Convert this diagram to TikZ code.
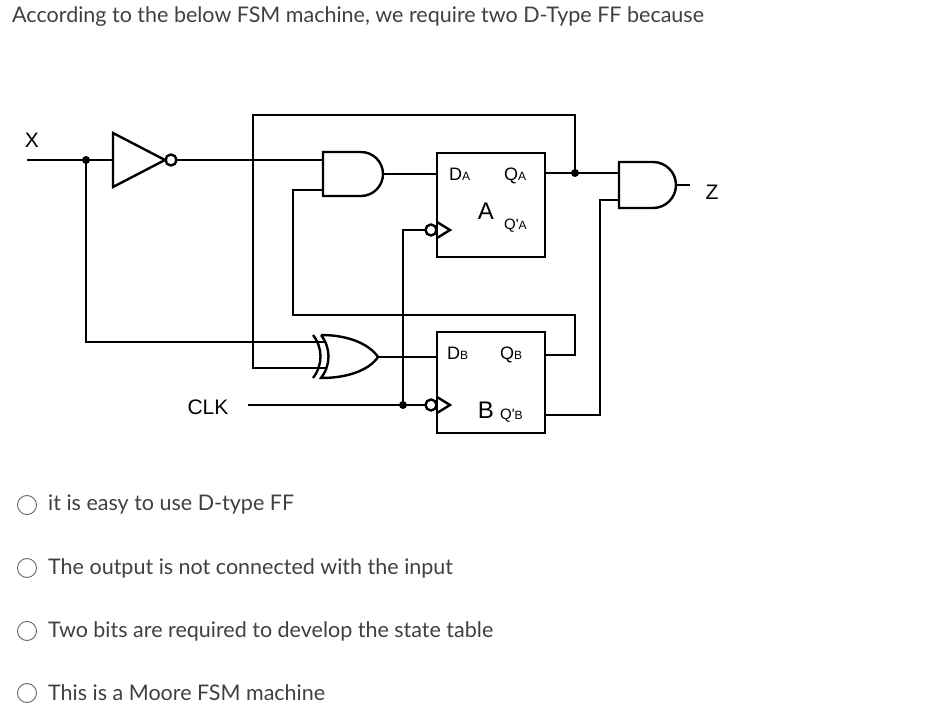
\documentclass[tikz,border=0pt]{standalone}
\usepackage{fontspec}
\setmainfont{Lato}
\newfontfamily\arialf{Liberation Sans}
\newcommand{\sbs}[1]{{\fontsize{12}{12}\selectfont #1}}
\begin{document}
\begin{tikzpicture}[x=1pt,y=-1pt,
  w/.style={line width=2.4pt},
  dot/.style={circle,fill=black,inner sep=0pt,minimum size=8pt},
  lbl/.style={font=\arialf\fontsize{21}{21}\selectfont,inner sep=0pt},
  ql/.style={font=\arialf\fontsize{18}{18}\selectfont,inner sep=0pt},
  opt/.style={font=\fontsize{21.5}{21.5}\selectfont,anchor=west,inner sep=0pt,text=black!75},
  radio/.style={draw=black!60,line width=0.9pt}]
\useasboundingbox (0,0) rectangle (938,719);
\node[opt] (title) at (12,17) {According to the below FSM machine, we require two D-Type FF because};
% labels
\node[lbl] (X) at (32,140) {X};
\node[lbl] (Z) at (712,192) {Z};
\node[lbl] (CLK) at (208,407) {CLK};
% inverter
\draw[w] (113,133)--(113,187)--(165,160)--cycle;
\draw[w] (171,160) circle (5.5);
% AND A
\draw[w] (323,152)--(361,152) arc(-90:90:22)--(323,196)--cycle;
% AND Z
\draw[w] (619,162)--(653,162) arc(-90:90:23)--(619,208)--cycle;
% XOR
\draw[w] (321,335) .. controls (350,335) and (370,345) .. (378,357) .. controls (370,369) and (350,378) .. (321,378) .. controls (331,365) and (331,348) .. (321,335);
\draw[w] (313,335) .. controls (323,348) and (323,365) .. (313,378);
% FF boxes
\draw[w] (437,153) rectangle (545,257);
\draw[w] (437,332) rectangle (545,433);
\draw[w] (437,222)--(450,230)--(437,238);
\draw[w] (437,397)--(450,405)--(437,413);
\draw[w] (431,230) circle (5.5);
\draw[w] (431,405) circle (5.5);
\node[ql,anchor=base west] (da) at (449,181) {D\sbs{A}};
\node[ql,anchor=base west] (qa) at (504,181) {Q\sbs{A}};
\node[lbl,font=\arialf\fontsize{24}{24}\selectfont] (la) at (486,211) {A};
\node[ql,anchor=base west,font=\arialf\fontsize{15}{15}\selectfont] (qna) at (504,230) {Q'\sbs{A}};
\node[ql,anchor=base west] (db) at (447,360) {D\sbs{B}};
\node[ql,anchor=base west] (qb) at (500,360) {Q\sbs{B}};
\node[lbl,font=\arialf\fontsize{24}{24}\selectfont] (lb) at (486,410) {B};
\node[ql,anchor=base west,font=\arialf\fontsize{15}{15}\selectfont] (qnb) at (500,420) {Q'\sbs{B}};
% coordinates
\coordinate (jx) at (86,160);
\coordinate (jq) at (575,173);
\coordinate (jc) at (403,405);
% wires
\draw[w] (27,160)--(113,160);
\draw[w] (176,160)--(323,160);
\draw[w] (jx)--(86,342)--(326,342);
\draw[w] (jq)--(575,115)--(253,115)--(253,368)--(326,368);
\draw[w] (323,190)--(293,190)--(293,315)--(575,315)--(575,355)--(545,355);
\draw[w] (383,174)--(437,174);
\draw[w] (545,173)--(619,173);
\draw[w] (378,357)--(437,357);
\draw[w] (545,415)--(600,415)--(600,200)--(619,200);
\draw[w] (676,185)--(690,185);
\draw[w] (248,405)--(425,405);
\draw[w] (jc)--(403,230)--(425,230);
\node[dot] at (jx) {};\node[dot] at (jq) {};\node[dot] at (jc) {};
% options
\foreach \y/\t in {505/{it is easy to use D-type FF},568/{The output is not connected with the input},631/{Two bits are required to develop the state table},693/{This is a Moore FSM machine}}{
  \draw[radio] (27,\y) circle (9.5);
  \node[opt] at (48,\y) {\t};
}
\end{tikzpicture}
\end{document}
